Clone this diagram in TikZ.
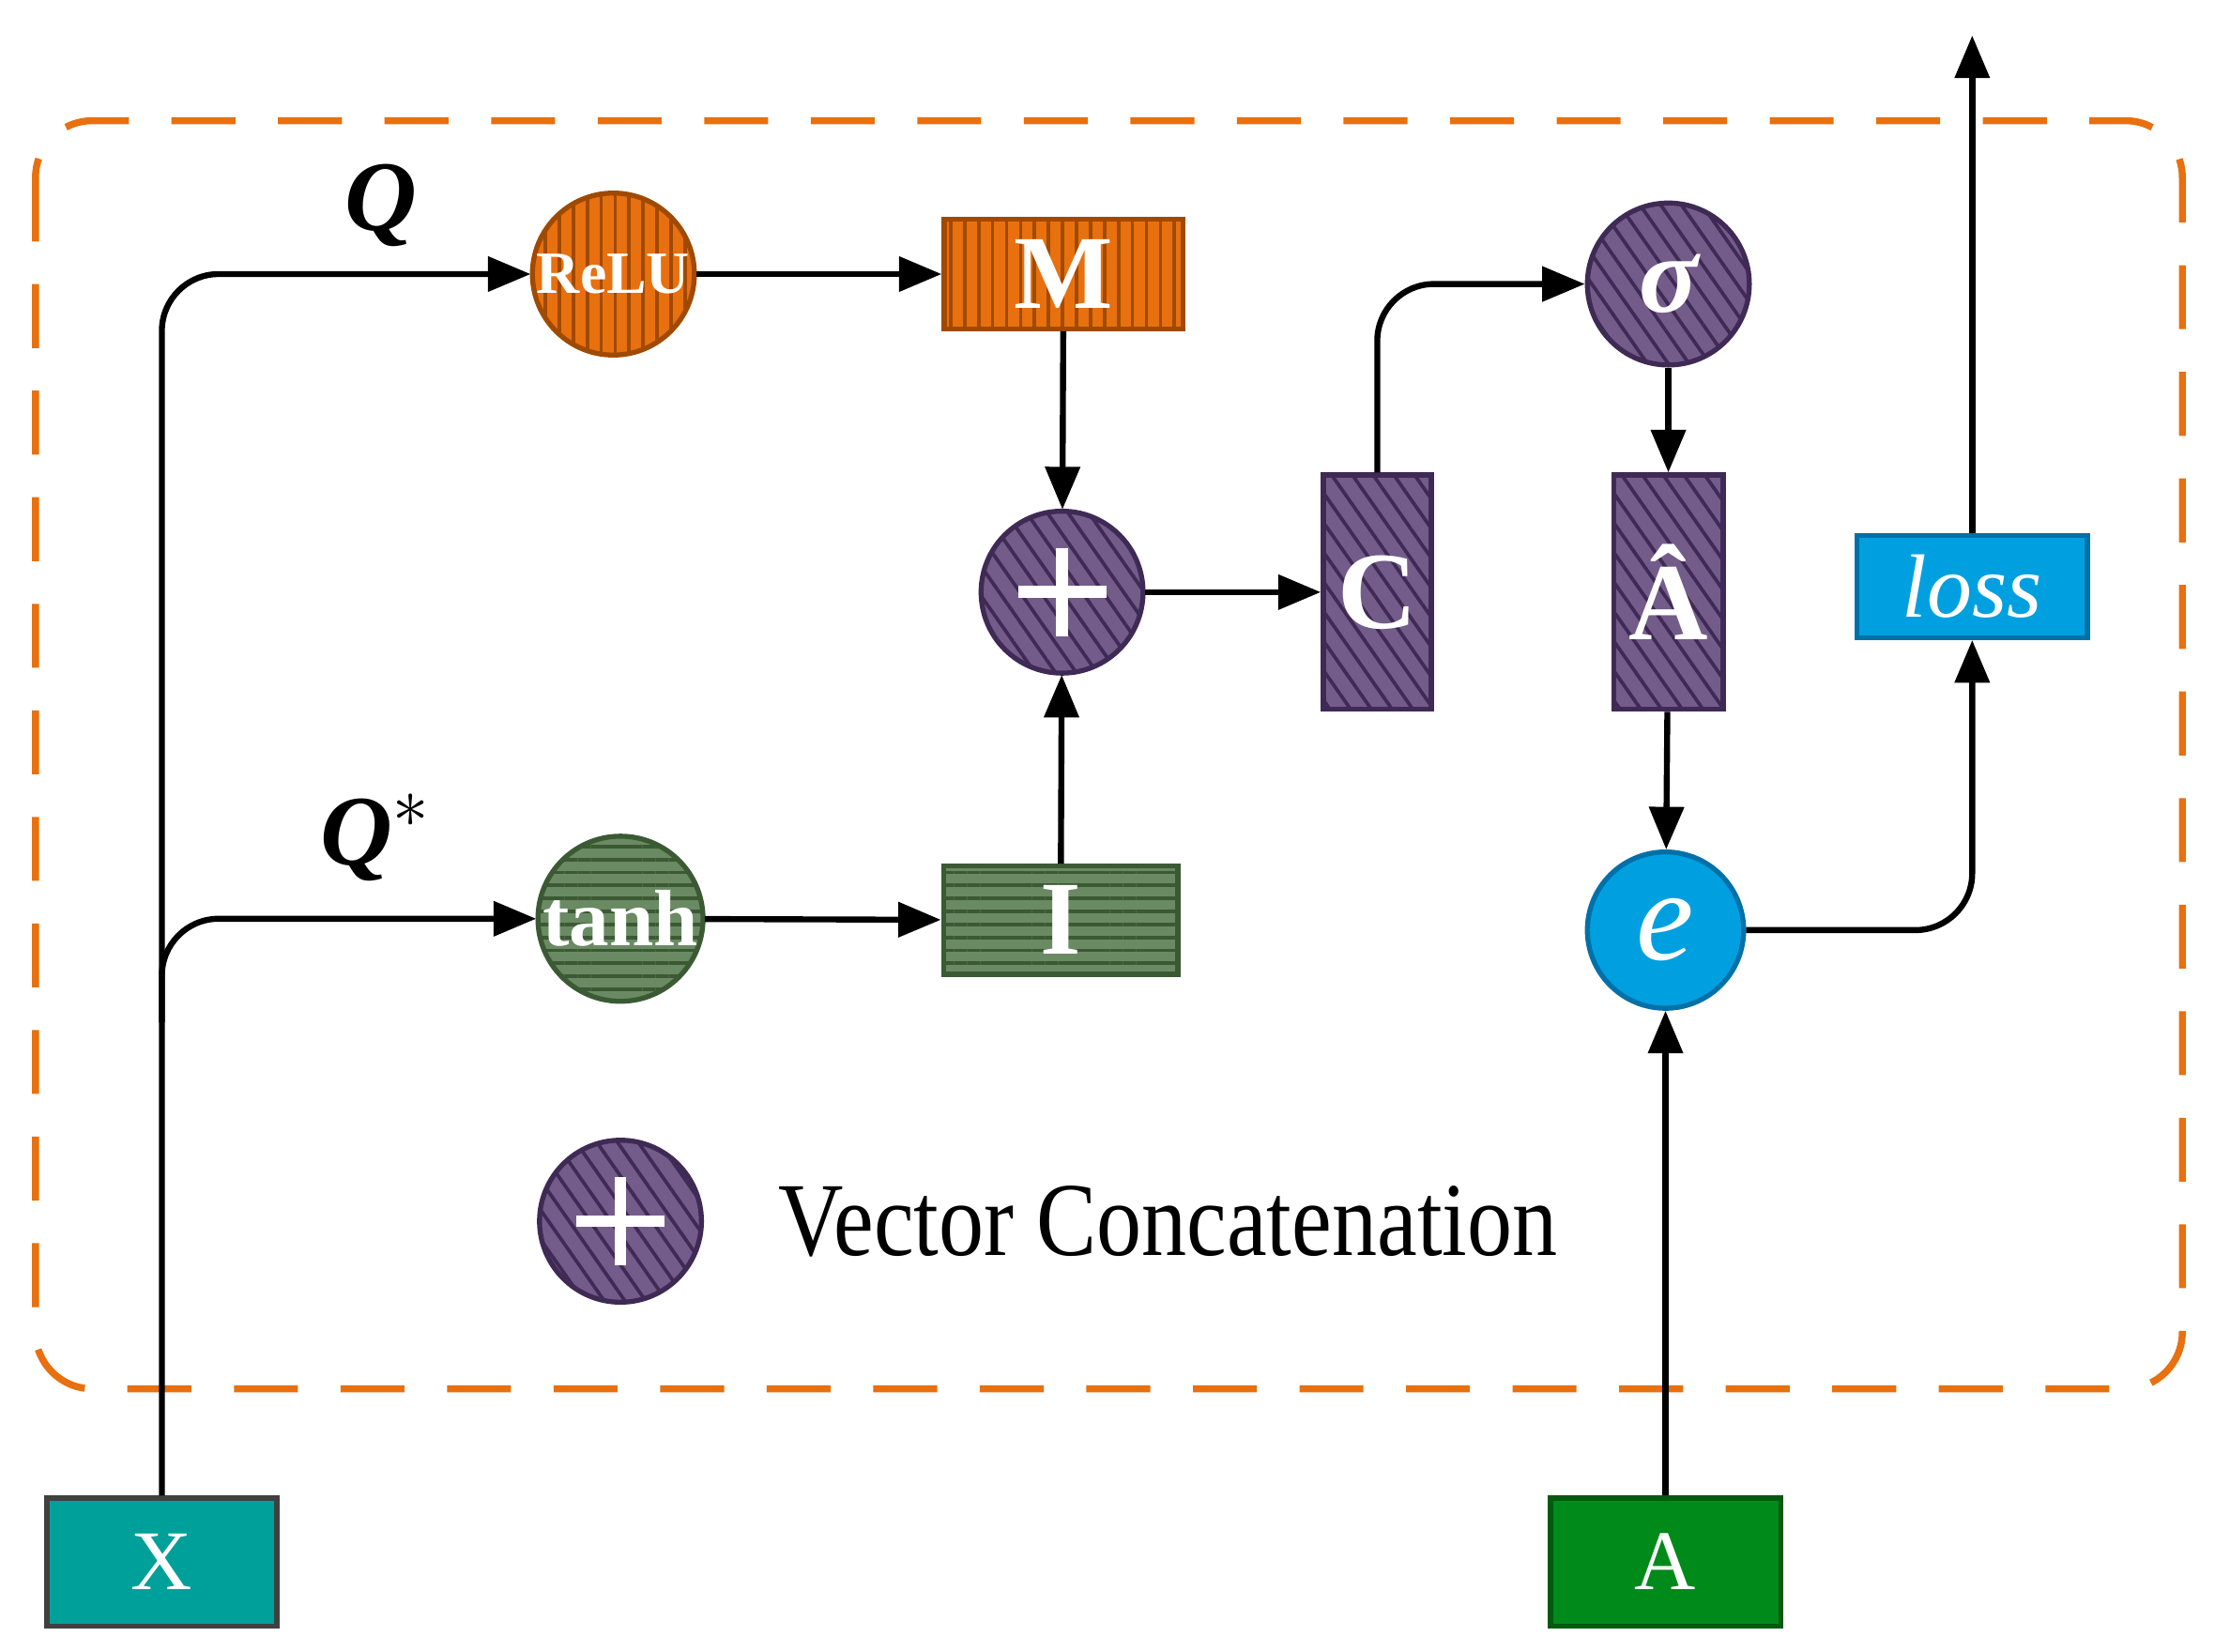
\documentclass[tikz,border=0pt]{standalone}
\usepackage{fontspec}
\setmainfont{Liberation Serif}
\usetikzlibrary{arrows.meta,patterns.meta}

\definecolor{orangeF}{HTML}{E8700F}
\definecolor{orangeD}{HTML}{A04A00}
\definecolor{purpleF}{HTML}{735C8A}
\definecolor{purpleD}{HTML}{3F2A55}
\definecolor{greenF}{HTML}{6A8A64}
\definecolor{greenD}{HTML}{3B5A34}
\definecolor{blueF}{HTML}{00A0E0}
\definecolor{blueD}{HTML}{0070A8}
\definecolor{tealF}{HTML}{00A09A}
\definecolor{aF}{HTML}{008A1A}
\definecolor{aD}{HTML}{005A10}

\begin{document}
\begin{tikzpicture}[x=0.01cm, y=-0.01cm,
    arr/.style={line width=1.2pt, -{Triangle[length=0.3cm,width=0.24cm]}},
    circ/.style={circle, minimum size=1.14cm, inner sep=0pt, line width=1pt, text=white},
    box/.style={rectangle, inner sep=0pt, line width=1pt, text=white},
    vstripe/.style={preaction={fill=orangeF}, draw=orangeD,
        pattern={Lines[angle=90,distance=2.8pt,line width=0.7pt]}, pattern color=orangeD},
    hstripe/.style={preaction={fill=greenF}, draw=greenD,
        pattern={Lines[angle=0,distance=2.6pt,line width=0.7pt]}, pattern color=greenD},
    dstripe/.style={preaction={fill=purpleF}, draw=purpleD,
        pattern={Lines[angle=-55,distance=3.4pt,line width=0.7pt]}, pattern color=purpleD},
    concat/.style={circ, dstripe, path picture={
        \draw[white, line width=2.4pt] ([xshift=-0.31cm]path picture bounding box.center) -- ([xshift=0.31cm]path picture bounding box.center);
        \draw[white, line width=2.4pt] ([yshift=-0.31cm]path picture bounding box.center) -- ([yshift=0.31cm]path picture bounding box.center);}},
    ]
  \useasboundingbox (0,0) rectangle (1560,1163);

  % frame
  \draw[orangeF, line width=1.4pt, dash pattern=on 0.45cm off 0.3cm, rounded corners=0.4cm]
    (25,85) rectangle (1537,978);

  % inputs
  \node[box, fill=tealF, draw=black!75, minimum width=1.62cm, minimum height=0.9cm,
        font=\fontsize{17}{17}\selectfont] (X) at (114,1100) {X};
  \node[box, fill=aF, draw=aD, minimum width=1.62cm, minimum height=0.9cm,
        font=\fontsize{17}{17}\selectfont] (A) at (1173,1100) {A};

  % upper branch
  \node[circ, vstripe, font=\fontsize{12}{12}\bfseries] (relu) at (432,193) {ReLU};
  \node[box, vstripe, minimum width=1.68cm, minimum height=0.77cm,
        font=\fontsize{21}{21}\bfseries] (M) at (749,193) {M};

  % lower branch
  \node[circ, hstripe, font=\fontsize{16}{16}\bfseries] (tanh) at (437,647) {tanh};
  \node[box, hstripe, minimum width=1.65cm, minimum height=0.76cm,
        font=\fontsize{21}{21}\bfseries] (I) at (747,648) {I};

  % concatenation and attention
  \node[concat] (cat) at (748,417) {};
  \node[box, dstripe, minimum width=0.76cm, minimum height=1.65cm,
        font=\fontsize{22}{22}\bfseries] (C) at (970,417) {C};
  \node[circ, dstripe, font=\fontsize{22}{22}\bfseries\itshape] (sigma) at (1175,200) {σ};
  \node[box, dstripe, minimum width=0.77cm, minimum height=1.65cm,
        font=\fontsize{22}{22}\bfseries] (Ahat) at (1175,417) {Â};
  \node[circ, fill=blueF, draw=blueD, minimum size=1.1cm,
        font=\fontsize{26}{26}\itshape] (e) at (1173,655) {e};
  \node[box, fill=blueF, draw=blueD, minimum width=1.62cm, minimum height=0.72cm,
        font=\fontsize{18}{18}\itshape] (loss) at (1389,413) {loss};
  \coordinate (out) at (1389,25);
  \coordinate (split) at (114,720);

  % labels
  \node[font=\fontsize{20}{20}\bfseries\itshape] (q) at (268,145) {Q};
  \node[font=\fontsize{20}{20}\bfseries\itshape] (qs) at (265,590) {Q$^{*}$};

  % legend
  \node[concat] (leg) at (437,860) {};
  \node[anchor=west, font=\fontsize{21}{21}\selectfont] (legtext) at (536,860)
    {\scalebox{0.86}[1]{Vector Concatenation}};

  % connectors
  \draw[arr, rounded corners=0.4cm] (X.north) |- (relu.west);
  \draw[arr, rounded corners=0.4cm] (split) |- (tanh.west);
  \draw[arr] (relu) -- (M);
  \draw[arr] (tanh) -- (I);
  \draw[arr] (M) -- (cat);
  \draw[arr] (I) -- (cat);
  \draw[arr] (cat) -- (C);
  \draw[arr, rounded corners=0.4cm] (C.north) |- (sigma.west);
  \draw[arr] (sigma) -- (Ahat);
  \draw[arr] (Ahat) -- (e);
  \draw[arr] (A) -- (e);
  \draw[arr, rounded corners=0.4cm] (e.east) -| (loss.south);
  \draw[arr] (loss) -- (out);
\end{tikzpicture}
\end{document}
